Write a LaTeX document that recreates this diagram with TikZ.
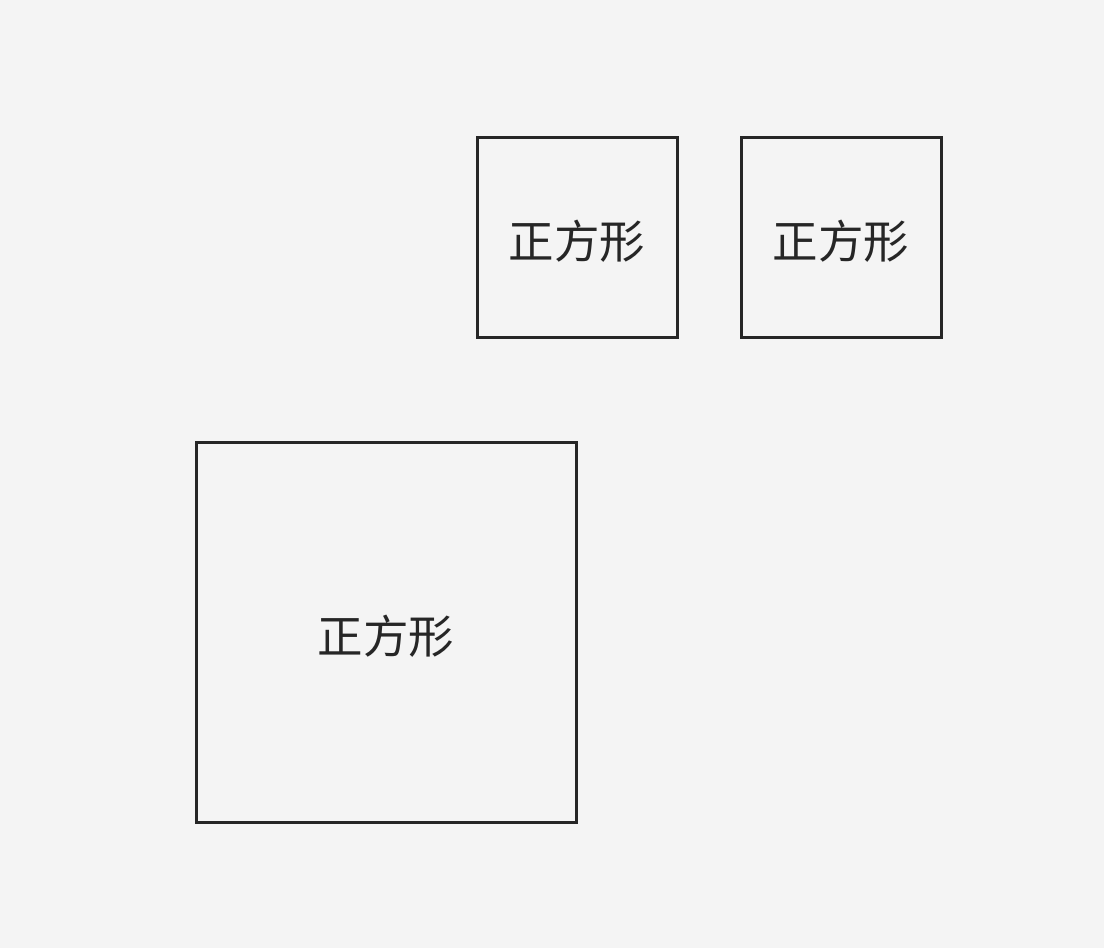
\documentclass[tikz,border=0pt]{standalone}
\usepackage{fontspec}
\newfontfamily\cjk{Noto Sans CJK SC}
\definecolor{bg}{HTML}{F4F4F4}
\definecolor{ink}{HTML}{262626}
\begin{document}
\begin{tikzpicture}[x=1pt,y=-1pt,
  sq/.style={draw=ink,line width=3pt,fill=bg,inner sep=0pt},
  sqtext/.style={font=\cjk\fontsize{45.5}{54}\selectfont,text=ink,inner sep=0pt,yshift=-4pt}]
\fill[bg] (0,0) rectangle (1104,948);
\useasboundingbox (0,0) rectangle (1104,948);
\node[sq,minimum width=200pt,minimum height=200pt,label={[sqtext]center:正方形}] (a) at (577,237) {};
\node[sq,minimum width=200pt,minimum height=200pt,label={[sqtext]center:正方形}] (b) at (841,237) {};
\node[sq,minimum width=380pt,minimum height=380pt,label={[sqtext]center:正方形}] (c) at (386,632) {};
\end{tikzpicture}
\end{document}
